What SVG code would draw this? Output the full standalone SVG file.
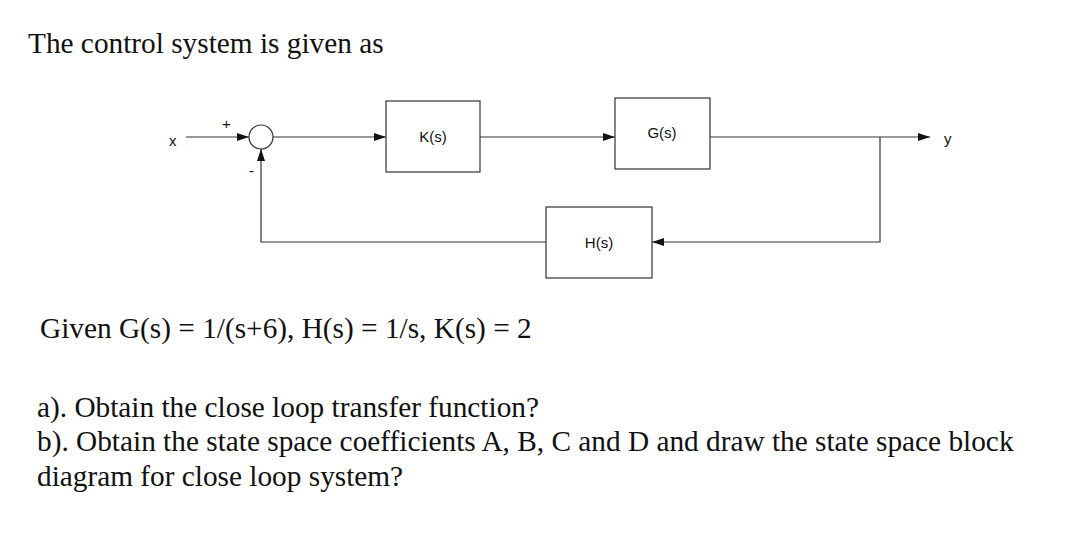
<svg xmlns="http://www.w3.org/2000/svg" width="1066" height="553" viewBox="0 0 1066 553">
<style>
.t{font-family:"Liberation Serif",serif;font-size:29.3px;fill:#111}
.s{font-family:"Liberation Sans",sans-serif;font-size:15px;fill:#111}
.b{fill:#fff;stroke:#333;stroke-width:1.2}
.c{fill:none;stroke:#333;stroke-width:1.2}
</style>
<defs><marker id="a" markerWidth="12" markerHeight="8" refX="12" refY="4" orient="auto" markerUnits="userSpaceOnUse"><path d="M0,0L12,4L0,8z" fill="#111"/></marker></defs>
<rect width="1066" height="553" fill="#fff"/>
<text class="t" x="28" y="53">The control system is given as</text>
<g id="connectors">
<path class="c" d="M186,137H249" marker-end="url(#a)"/>
<path class="c" d="M273,137H386" marker-end="url(#a)"/>
<path class="c" d="M480,137H615" marker-end="url(#a)"/>
<path class="c" d="M710,137H930" marker-end="url(#a)"/>
<path class="c" d="M880,137V242H652" marker-end="url(#a)"/>
<path class="c" d="M546,242H261V149" marker-end="url(#a)"/>
</g>
<g id="sum"><circle class="b" cx="261" cy="137" r="12"/></g>
<g id="K"><rect class="b" x="386" y="101" width="94" height="71"/><text class="s" x="433" y="142" text-anchor="middle">K(s)</text></g>
<g id="G"><rect class="b" x="615" y="98" width="95" height="71"/><text class="s" x="662" y="138" text-anchor="middle">G(s)</text></g>
<g id="H"><rect class="b" x="546" y="207" width="106" height="71"/><text class="s" x="599" y="248" text-anchor="middle">H(s)</text></g>
<text class="s" x="169" y="146">x</text>
<text class="s" x="944" y="144">y</text>
<text class="s" x="222" y="129" font-size="11">+</text>
<text class="s" x="249" y="176">-</text>
<text class="t" x="40" y="338">Given G(s) = 1/(s+6), H(s) = 1/s, K(s) = 2</text>
<text class="t" x="37" y="417">a). Obtain the close loop transfer function?</text>
<text class="t" x="37" y="451">b). Obtain the state space coefficients A, B, C and D and draw the state space block</text>
<text class="t" x="37" y="486">diagram for close loop system?</text>
</svg>
